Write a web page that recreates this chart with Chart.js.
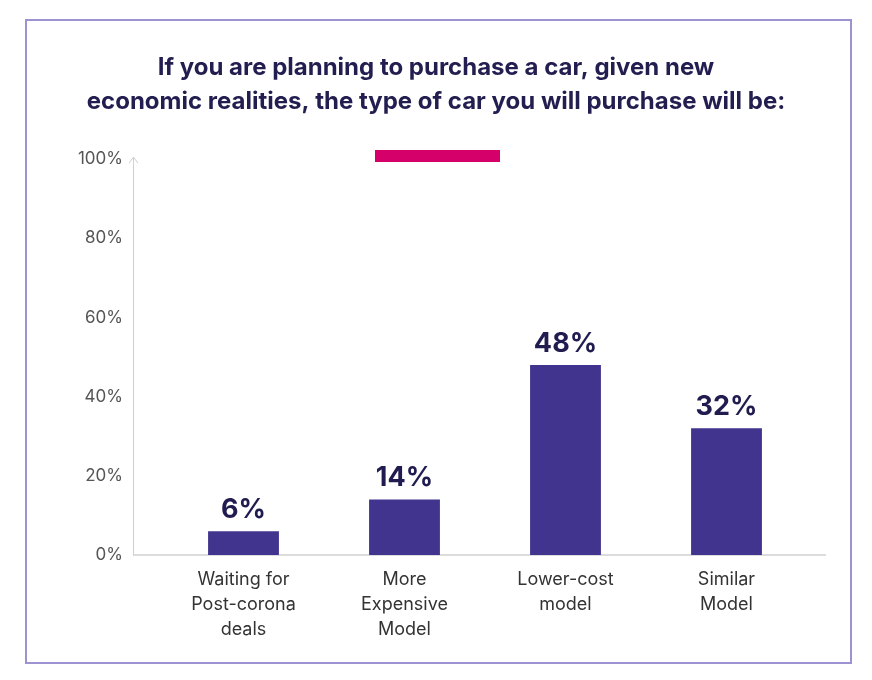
<!DOCTYPE html>
<html>
<head>
<meta charset="utf-8">
<script src="https://cdn.jsdelivr.net/npm/chart.js@4/dist/chart.umd.min.js"></script>
<style>
  html, body { margin: 0; padding: 0; background: #fff; }
  #wrap { position: relative; width: 872px; height: 680px; }
  #frame { position: absolute; left: 25px; top: 19px; width: 823px; height: 641px; border: 2px solid #9d93d0; pointer-events: none; }
  canvas { position: absolute; left: 0; top: 0; }
</style>
</head>
<body>
<div id="wrap">
  <canvas id="c" width="872" height="680"></canvas>
  <div id="frame"></div>
</div>
<script>
const categories = [
  ["Waiting for", "Post-corona", "deals"],
  ["More", "Expensive", "Model"],
  ["Lower-cost", "model"],
  ["Similar", "Model"]
];
const values = [6, 14, 48, 32];
const yTicks = [0, 20, 40, 60, 80, 100];
const titleLines = [
  "If you are planning to purchase a car, given new",
  "economic realities, the type of car you will purchase will be:"
];

const FONT = "Inter, 'Open Sans', sans-serif";

const decor = {
  id: 'decor',
  beforeDatasetsDraw(chart) {
    const { ctx, chartArea } = chart;
    const y = chart.scales.y;
    const x0 = chartArea.left - 30;
    const base = y.getPixelForValue(0);
    const top = y.getPixelForValue(100);
    ctx.save();
    ctx.strokeStyle = '#dcdcdc';
    ctx.lineWidth = 2;
    ctx.beginPath();
    ctx.moveTo(x0, base);
    ctx.lineTo(chartArea.right + 19, base);
    ctx.stroke();
    ctx.strokeStyle = '#cfcfcf';
    ctx.lineWidth = 1;
    ctx.beginPath();
    ctx.moveTo(x0 + 0.5, base);
    ctx.lineTo(x0 + 0.5, top - 2);
    ctx.moveTo(x0 - 4, top + 4);
    ctx.lineTo(x0 + 0.5, top - 2);
    ctx.lineTo(x0 + 5, top + 4);
    ctx.stroke();
    ctx.restore();
  },
  afterDatasetsDraw(chart) {
    const { ctx } = chart;
    const meta = chart.getDatasetMeta(0);
    ctx.save();
    ctx.fillStyle = '#201c4f';
    ctx.font = "bold 27px " + FONT;
    ctx.textAlign = 'center';
    ctx.textBaseline = 'bottom';
    meta.data.forEach((bar, i) => {
      ctx.fillText(values[i] + '%', bar.x, bar.y - 8);
    });
    ctx.fillStyle = '#d5006a';
    ctx.fillRect(375, 150, 125, 12);
    ctx.restore();
  }
};

new Chart(document.getElementById('c'), {
  type: 'bar',
  data: {
    labels: categories,
    datasets: [{
      data: values,
      backgroundColor: '#41348f',
      borderWidth: 0,
      barPercentage: 0.88,
      categoryPercentage: 0.5
    }]
  },
  options: {
    responsive: false,
    animation: false,
    layout: { padding: 0 },
    plugins: {
      legend: { display: false },
      tooltip: { enabled: false },
      title: {
        display: true,
        text: titleLines,
        color: '#221e50',
        font: { family: FONT, size: 24, weight: 'bold', lineHeight: 1.42 },
        padding: { top: 51, bottom: 40 }
      }
    },
    scales: {
      x: {
        grid: { display: false, drawTicks: false },
        border: { display: false },
        ticks: {
          color: '#333',
          padding: 12,
          maxRotation: 0,
          font: { family: FONT, size: 18, lineHeight: 1.39 }
        },
        afterFit(scale) { scale.height = 125; }
      },
      y: {
        min: 0,
        max: 100,
        afterBuildTicks(scale) { scale.ticks = yTicks.map(v => ({ value: v })); },
        grid: { display: false, drawTicks: false },
        border: { display: false },
        ticks: {
          color: '#555',
          padding: 40,
          font: { family: FONT, size: 17 },
          callback: v => v + '%'
        },
        afterFit(scale) { scale.width = 163; }
      },
      yRight: {
        position: 'right',
        display: true,
        min: 0,
        max: 100,
        grid: { display: false, drawTicks: false },
        border: { display: false },
        ticks: { display: false },
        afterFit(scale) { scale.width = 65; }
      }
    }
  },
  plugins: [decor]
});
</script>
</body>
</html>
